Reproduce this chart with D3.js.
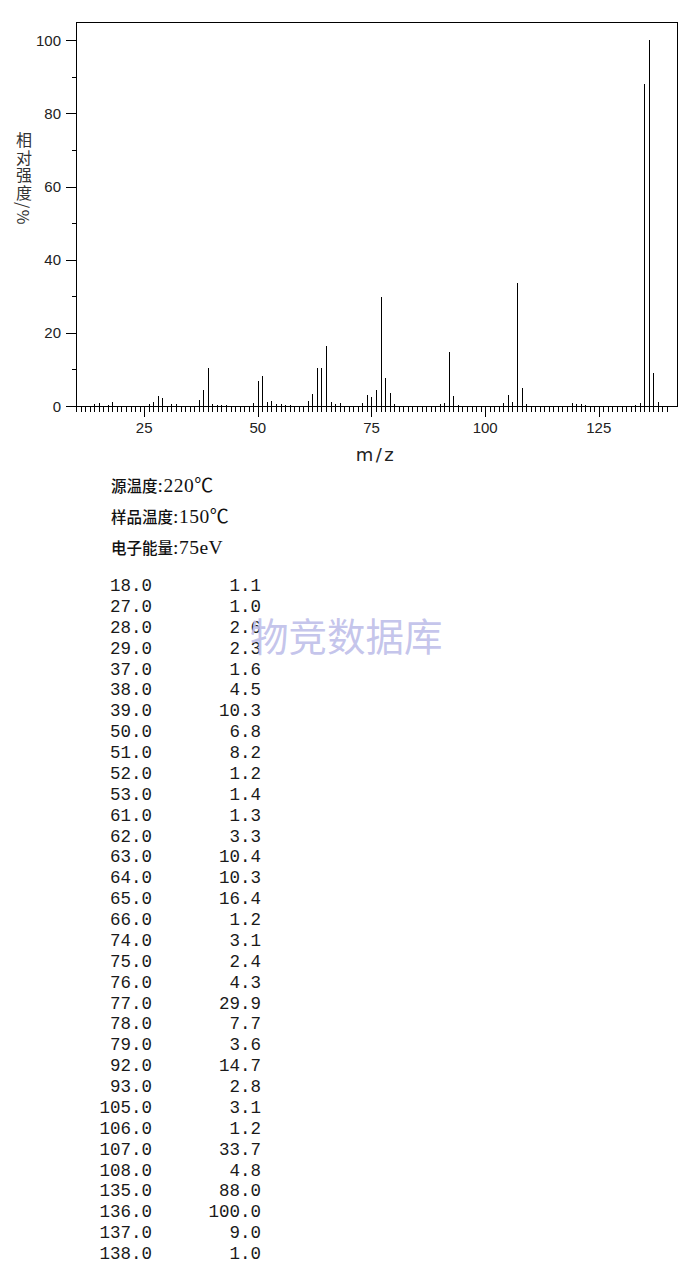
<!DOCTYPE html>
<html>
<head>
<meta charset="utf-8">
<script src="https://cdn.jsdelivr.net/npm/d3@7"></script>
<style>
html,body{margin:0;padding:0;background:#fff;}
svg{display:block;}
</style>
</head>
<body>
<div id="chart"></div>
<script>
// ---- data ----
const mzTable = [18,27,28,29,37,38,39,50,51,52,53,61,62,63,64,65,66,74,75,76,77,78,79,92,93,105,106,107,108,135,136,137,138];
const intensityTable = [1.1,1.0,2.6,2.3,1.6,4.5,10.3,6.8,8.2,1.2,1.4,1.3,3.3,10.4,10.3,16.4,1.2,3.1,2.4,4.3,29.9,7.7,3.6,14.7,2.8,3.1,1.2,33.7,4.8,88.0,100.0,9.0,1.0];
// small peaks visible in the plot but not in the table (estimated)
const minorMz = [14,15,17,26,31,32,40,41,42,43,49,54,55,56,57,67,68,73,80,90,91,94,104,109,119,120,121,122,133,134];
const minorIntensity = [0.5,0.9,0.3,0.5,0.5,0.6,0.5,0.3,0.3,0.3,0.9,0.5,0.5,0.4,0.4,0.5,0.7,0.9,0.5,0.6,0.9,0.4,0.7,0.6,0.8,0.6,0.6,0.4,0.4,0.7];
const yTickValues = [0,20,40,60,80,100];
const yMinorTicks = [10,30,50,70,90];
const xTickValues = [25,50,75,100,125];
const conditions = [
  {label:"源温度", value:":220", unit:"℃"},
  {label:"样品温度", value:":150", unit:"℃"},
  {label:"电子能量", value:":75eV", unit:""}
];
const yLabel = "相对强度/%";
const xLabel = "m/z";
const watermark = "物竞数据库";

const W = 687, H = 1276;
const svg = d3.select("#chart").append("svg").attr("width", W).attr("height", H);
svg.append("rect").attr("width", W).attr("height", H).attr("fill", "#fff");

const x = d3.scaleLinear().domain([10, 142.2]).range([76, 677]);
const y = d3.scaleLinear().domain([0, 105]).range([406, 22]);
const px = v => Math.round(v) + 0.5;

const g = svg.append("g");

// frame
g.append("rect").attr("x", 76.5).attr("y", 22.5).attr("width", 677 - 76).attr("height", 406 - 22)
  .attr("fill", "none").attr("stroke", "#000").attr("stroke-width", 1).attr("shape-rendering", "crispEdges");

// peaks
const peaks = mzTable.map((m, i) => ({m, v: intensityTable[i]}))
  .concat(minorMz.map((m, i) => ({m, v: minorIntensity[i]})));
g.selectAll("line.peak").data(peaks).join("line").attr("class", "peak")
  .attr("x1", d => px(x(d.m))).attr("x2", d => px(x(d.m)))
  .attr("y1", 406).attr("y2", d => Math.round(y(d.v)))
  .attr("stroke", "#000").attr("stroke-width", 1).attr("shape-rendering", "crispEdges");

// x axis minor ticks
const xMinor = d3.range(10, 141, 1);
g.selectAll("line.xminor").data(xMinor).join("line")
  .attr("x1", d => px(x(d))).attr("x2", d => px(x(d)))
  .attr("y1", 406).attr("y2", d => xTickValues.includes(d) ? 417 : 412)
  .attr("stroke", "#000").attr("shape-rendering", "crispEdges");

// x axis labels
g.selectAll("text.xl").data(xTickValues).join("text")
  .attr("x", d => x(d)).attr("y", 433).attr("text-anchor", "middle")
  .attr("font-family", "'Liberation Sans', Arial, sans-serif").attr("font-size", 15).attr("fill", "#222")
  .text(d => d);

// y axis ticks
g.selectAll("line.ymaj").data(yTickValues).join("line")
  .attr("x1", 66).attr("x2", 76).attr("y1", d => px(y(d))).attr("y2", d => px(y(d)))
  .attr("stroke", "#000").attr("shape-rendering", "crispEdges");
g.selectAll("line.ymin").data(yMinorTicks).join("line")
  .attr("x1", 72).attr("x2", 76).attr("y1", d => px(y(d))).attr("y2", d => px(y(d)))
  .attr("stroke", "#000").attr("shape-rendering", "crispEdges");
g.selectAll("text.yl").data(yTickValues).join("text")
  .attr("x", 61).attr("y", d => y(d) + 5.5).attr("text-anchor", "end")
  .attr("font-family", "'Liberation Sans', Arial, sans-serif").attr("font-size", 15).attr("fill", "#222")
  .text(d => d);

// axis titles
svg.append("text").attr("x", 376).attr("y", 461).attr("text-anchor", "middle")
  .attr("font-family", "'DejaVu Sans', sans-serif").attr("font-size", 18).attr("letter-spacing", 2.5)
  .attr("fill", "#222").text(xLabel);

svg.append("text").attr("x", 24).attr("y", 132)
  .attr("style", "writing-mode: vertical-rl;")
  .attr("font-family", "'Noto Sans CJK SC', sans-serif").attr("font-size", 16).attr("letter-spacing", 1.5)
  .attr("fill", "#333").text(yLabel);

// conditions
conditions.forEach((c, i) => {
  const t = svg.append("text").attr("x", 111).attr("y", 492 + i * 31).attr("fill", "#111");
  t.append("tspan").attr("font-family", "'Noto Sans CJK SC', sans-serif").attr("font-size", 15.5).attr("font-weight", 500).text(c.label);
  t.append("tspan").attr("font-family", "'Liberation Serif', serif").attr("font-size", 19.5).attr("letter-spacing", 0.5).text(c.value);
  if (c.unit) t.append("tspan").attr("font-family", "'Noto Sans CJK SC', sans-serif").attr("font-size", 19).text(c.unit);
});

// peak table
const rowY = i => 591 + i * 20.875;
const tbl = svg.append("g").attr("font-family", "'Liberation Mono', monospace").attr("font-size", 17.5).attr("fill", "#1a1a1a");
tbl.selectAll("text.mz").data(mzTable).join("text")
  .attr("x", 152).attr("y", (d, i) => rowY(i)).attr("text-anchor", "end").text(d => d.toFixed(1));
tbl.selectAll("text.iv").data(intensityTable).join("text")
  .attr("x", 261).attr("y", (d, i) => rowY(i)).attr("text-anchor", "end").text(d => d.toFixed(1));

// watermark (overlaps the table, as in the original)
svg.append("text").attr("x", 250).attr("y", 651)
  .attr("font-family", "'Noto Sans CJK SC', sans-serif").attr("font-size", 38.5)
  .attr("fill", "#c0c0ea").attr("fill-opacity", 0.92).text(watermark);
</script>
</body>
</html>
